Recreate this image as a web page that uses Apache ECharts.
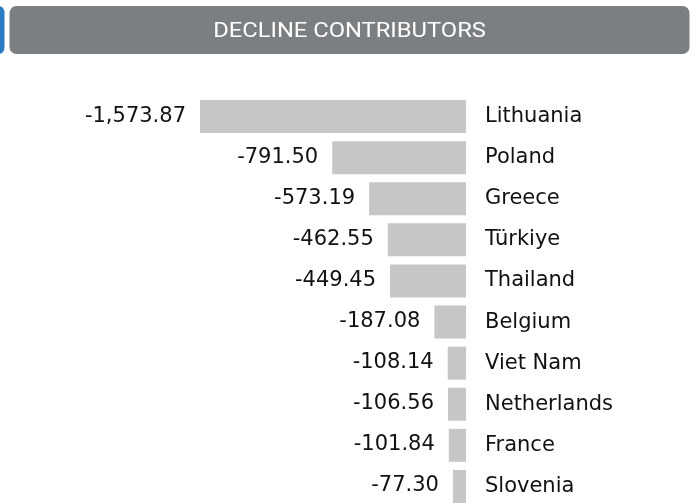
<!DOCTYPE html>
<html>
<head>
<meta charset="utf-8">
<script src="https://cdn.jsdelivr.net/npm/echarts@6/dist/echarts.min.js"></script>
<style>
  html, body { margin: 0; padding: 0; background: #ffffff; }
  #chart { width: 696px; height: 504px; }
</style>
</head>
<body>
<div id="chart"></div>
<script>
// Countries with the largest declines, biggest first
const countries = ['Lithuania', 'Poland', 'Greece', 'Türkiye', 'Thailand', 'Belgium', 'Viet Nam', 'Netherlands', 'France', 'Slovenia'];
const declines = [-1573.87, -791.50, -573.19, -462.55, -449.45, -187.08, -108.14, -106.56, -101.84, -77.30];
const heading = 'DECLINE CONTRIBUTORS';

const chart = echarts.init(document.getElementById('chart'), null, { renderer: 'canvas' });

const fmt = v => {
  const s = Math.abs(v).toFixed(2).replace(/\B(?=(\d{3})+(?!\d))/g, ',');
  return (v < 0 ? '-' : '') + s;
};

chart.setOption({
  animation: false,
  backgroundColor: '#ffffff',
  graphic: [
    {
      type: 'rect',
      shape: { x: -8, y: 6, width: 12.5, height: 48, r: 6 },
      style: { fill: '#2a7bc0' }
    },
    {
      type: 'rect',
      shape: { x: 9.5, y: 6, width: 680, height: 48, r: 7 },
      style: { fill: '#7c7f82' }
    },
    {
      // header caption, slightly widened
      type: 'text',
      x: 349.5,
      y: 31.5,
      scaleX: 1.13,
      style: {
        text: heading,
        fill: '#ffffff',
        font: '21px Roboto',
        align: 'center',
        verticalAlign: 'middle'
      }
    }
  ],
  grid: { left: 200, width: 266, top: 96, height: 411, containLabel: false, outerBoundsMode: 'none' },
  xAxis: {
    type: 'value',
    min: Math.min(...declines),
    max: 0,
    show: false
  },
  yAxis: {
    type: 'category',
    data: countries,
    inverse: true,
    position: 'right',
    axisLine: { show: false },
    axisTick: { show: false },
    splitLine: { show: false },
    axisLabel: {
      margin: 19,
      color: '#111111',
      fontFamily: 'DejaVu Sans',
      fontSize: 21,
      padding: [4, 0, 0, 0]
    }
  },
  series: [{
    type: 'bar',
    data: declines,
    barWidth: 33,
    itemStyle: { color: '#c6c6c6' },
    label: {
      show: true,
      position: 'left',
      distance: 14,
      offset: [0, -0.5],
      color: '#111111',
      fontFamily: 'DejaVu Sans',
      fontSize: 21,
      formatter: p => fmt(p.value)
    }
  }]
});
</script>
</body>
</html>
